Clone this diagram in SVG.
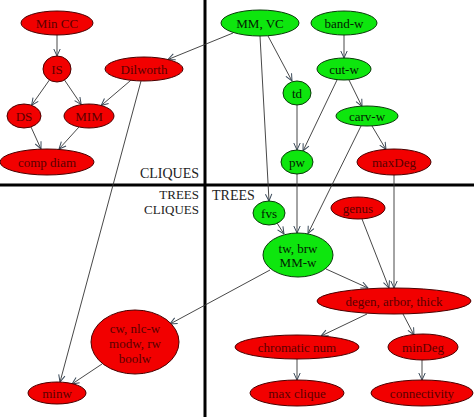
<svg xmlns="http://www.w3.org/2000/svg" width="474" height="417" viewBox="0 0 474 417">
<defs>
<marker id="arr" viewBox="0 0 8 8" refX="7.5" refY="4" markerWidth="8" markerHeight="8" markerUnits="userSpaceOnUse" orient="auto">
<path d="M0.5,0.8 L7.5,4 L0.5,7.2" fill="none" stroke="#3a4a5a" stroke-width="1"/>
</marker>
<style>
.r{fill:#f20000;stroke:#4a0000;stroke-width:1}
.g{fill:#0ee60e;stroke:#0a3a0a;stroke-width:1}
.rt{fill:#5a0000;font-family:"Liberation Serif",serif;font-size:13px;text-anchor:middle}
.gt{fill:#032003;font-family:"Liberation Serif",serif;font-size:13px;text-anchor:middle}
.lbl{fill:#222;font-family:"Liberation Serif",serif;font-size:14px}
.lbs{fill:#222;font-family:"Liberation Serif",serif;font-size:13px}
.e{stroke:#333;stroke-width:0.9;fill:none;marker-end:url(#arr)}
.ax{stroke:#000;stroke-width:3}
</style>
</defs>
<rect width="474" height="417" fill="#fff"/>
<g id="axes">
<line class="ax" x1="0" y1="185" x2="474" y2="185"/>
<line class="ax" x1="205" y1="0" x2="205" y2="417"/>
</g>
<g id="labels">
<text class="lbl" x="199" y="178" text-anchor="end">CLIQUES</text>
<text class="lbs" x="199" y="199" text-anchor="end">TREES</text>
<text class="lbs" x="199" y="214" text-anchor="end">CLIQUES</text>
<text class="lbl" x="212" y="200">TREES</text>
</g>
<g id="connectors">
<line class="e" x1="57" y1="35" x2="57" y2="56"/>
<line class="e" x1="49.4" y1="80" x2="31.6" y2="105.2"/>
<line class="e" x1="64.5" y1="80" x2="81.2" y2="104.6"/>
<line class="e" x1="130.8" y1="80.3" x2="101.2" y2="105.5"/>
<line class="e" x1="31" y1="127" x2="41" y2="149"/>
<line class="e" x1="79" y1="127" x2="59" y2="149"/>
<line class="e" x1="233" y1="33" x2="168" y2="59.5"/>
<line class="e" x1="141" y1="81" x2="60" y2="382"/>
<line class="e" x1="268" y1="36" x2="292" y2="81"/>
<line class="e" x1="260" y1="36" x2="269" y2="201"/>
<line class="e" x1="344" y1="35" x2="344" y2="58"/>
<line class="e" x1="337" y1="80" x2="303" y2="151"/>
<line class="e" x1="349" y1="80" x2="362" y2="106.5"/>
<line class="e" x1="297" y1="105" x2="297" y2="150"/>
<line class="e" x1="372" y1="126" x2="386" y2="149.5"/>
<line class="e" x1="361" y1="126" x2="308" y2="233.5"/>
<line class="e" x1="297" y1="174" x2="297" y2="233"/>
<line class="e" x1="394" y1="175" x2="394" y2="288"/>
<line class="e" x1="362" y1="219" x2="389" y2="288"/>
<line class="e" x1="277" y1="223" x2="284" y2="234"/>
<line class="e" x1="326" y1="269" x2="368" y2="288"/>
<line class="e" x1="270" y1="270" x2="170" y2="324"/>
<line class="e" x1="102" y1="364" x2="72" y2="384"/>
<line class="e" x1="367" y1="314" x2="321" y2="336"/>
<line class="e" x1="403" y1="314" x2="414" y2="335"/>
<line class="e" x1="297" y1="359" x2="297" y2="380"/>
<line class="e" x1="422" y1="360" x2="422" y2="380"/>
</g>
<g id="minCC"><ellipse class="r" cx="57" cy="23" rx="36" ry="12"/><text class="rt" x="57" y="27.5">Min CC</text></g>
<g id="IS"><ellipse class="r" cx="57" cy="69" rx="14" ry="13"/><text class="rt" x="57" y="73.5">IS</text></g>
<g id="dilworth"><ellipse class="r" cx="144" cy="69" rx="39" ry="12"/><text class="rt" x="144" y="73.5">Dilworth</text></g>
<g id="DS"><ellipse class="r" cx="24" cy="116" rx="17" ry="12"/><text class="rt" x="24" y="120.5">DS</text></g>
<g id="MIM"><ellipse class="r" cx="89" cy="116" rx="25" ry="12"/><text class="rt" x="89" y="120.5">MIM</text></g>
<g id="compdiam"><ellipse class="r" cx="47" cy="162" rx="47" ry="13"/><text class="rt" x="47" y="166.5">comp diam</text></g>
<g id="MMVC"><ellipse class="g" cx="260" cy="23" rx="39" ry="13"/><text class="gt" x="260" y="27.5">MM, VC</text></g>
<g id="bandw"><ellipse class="g" cx="344" cy="23" rx="33" ry="12"/><text class="gt" x="344" y="27.5">band-w</text></g>
<g id="cutw"><ellipse class="g" cx="344" cy="69" rx="27" ry="11"/><text class="gt" x="344" y="73.5">cut-w</text></g>
<g id="td"><ellipse class="g" cx="297" cy="93" rx="14" ry="12"/><text class="gt" x="297" y="97.5">td</text></g>
<g id="carvw"><ellipse class="g" cx="367" cy="116" rx="31" ry="10"/><text class="gt" x="367" y="120.5">carv-w</text></g>
<g id="pw"><ellipse class="g" cx="297" cy="162" rx="16" ry="12"/><text class="gt" x="297" y="166.5">pw</text></g>
<g id="maxDeg"><ellipse class="r" cx="394" cy="162" rx="37" ry="13"/><text class="rt" x="394" y="166.5">maxDeg</text></g>
<g id="fvs"><ellipse class="g" cx="269" cy="213" rx="16" ry="12"/><text class="gt" x="269" y="217.5">fvs</text></g>
<g id="genus"><ellipse class="r" cx="358" cy="208" rx="27" ry="11"/><text class="rt" x="358" y="212.5">genus</text></g>
<g id="tw"><ellipse class="g" cx="298" cy="255" rx="35" ry="22"/><text class="gt" x="298" y="252.5">tw, brw</text><text class="gt" x="298" y="266.5">MM-w</text></g>
<g id="degen"><ellipse class="r" cx="394" cy="301" rx="77" ry="13"/><text class="rt" x="394" y="305.5">degen, arbor, thick</text></g>
<g id="cw"><ellipse class="r" cx="135" cy="342" rx="44" ry="32"/><text class="rt" x="135" y="332.5">cw, nlc-w</text><text class="rt" x="135" y="347.5">modw, rw</text><text class="rt" x="135" y="362.5">boolw</text></g>
<g id="chromatic"><ellipse class="r" cx="297" cy="347" rx="62" ry="12"/><text class="rt" x="297" y="351.5">chromatic num</text></g>
<g id="minDeg"><ellipse class="r" cx="423" cy="347" rx="35" ry="13"/><text class="rt" x="423" y="351.5">minDeg</text></g>
<g id="maxclique"><ellipse class="r" cx="297" cy="393" rx="47" ry="13"/><text class="rt" x="297" y="397.5">max clique</text></g>
<g id="connectivity"><ellipse class="r" cx="422" cy="393" rx="51" ry="13"/><text class="rt" x="422" y="397.5">connectivity</text></g>
<g id="minw"><ellipse class="r" cx="57" cy="393" rx="29" ry="11"/><text class="rt" x="57" y="397.5">minw</text></g>
</svg>
